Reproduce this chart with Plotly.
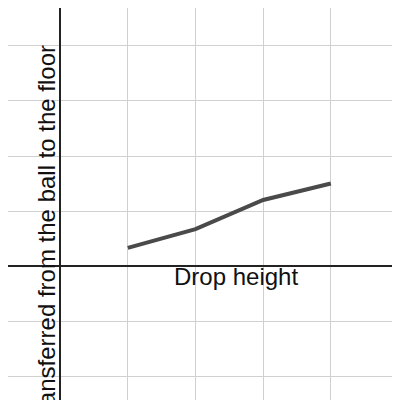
import plotly.graph_objects as go

drop_height = [1, 2, 3, 4]
energy = [0.33, 0.67, 1.2, 1.5]

fig = go.Figure()
fig.add_trace(go.Scatter(x=drop_height, y=energy, mode="lines",
                         line=dict(color="#4a4a4a", width=4)))

axis_style = dict(showgrid=True, gridcolor="#d0d0d0", gridwidth=1, dtick=1,
                  zeroline=True, zerolinecolor="#222222", zerolinewidth=1.5,
                  showticklabels=False, ticks="", showline=False)
fig.update_xaxes(range=[-0.77, 5.14], **axis_style)
fig.update_yaxes(range=[-2.58, 4.69], **axis_style)

fig.add_annotation(text="Drop height", x=0.73, y=0.29, xref="paper", yref="paper",
                   showarrow=False, font=dict(size=24, color="#111111",
                                              family="Liberation Sans"))
fig.add_annotation(text="Energy transferred from the ball to the floor",
                   x=0.055, y=0.9125, xref="paper", yref="paper", textangle=-90,
                   yanchor="top", showarrow=False,
                   font=dict(size=24, color="#111111", family="Liberation Sans"))

fig.update_layout(width=400, height=400,
                  margin=dict(l=0, r=0, t=0, b=0, autoexpand=False),
                  plot_bgcolor="white", paper_bgcolor="white", showlegend=False)
fig.write_html("out.html")
